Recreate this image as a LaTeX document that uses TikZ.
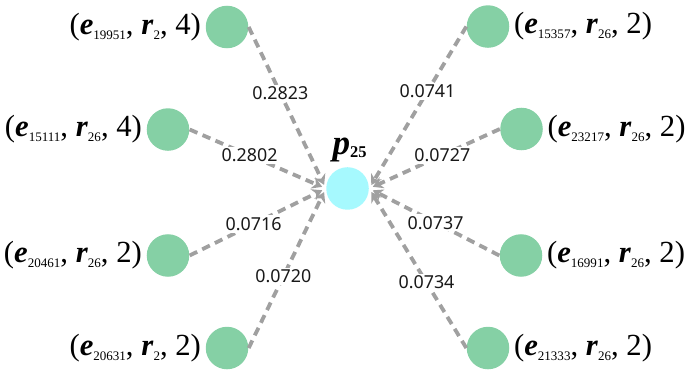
\documentclass[tikz,border=0pt]{standalone}
\usepackage{fontspec}
\setmainfont{Liberation Serif}
\newfontfamily\numfont{Noto Sans}
\usepackage{xcolor}
\usepackage{tikz}
\usetikzlibrary{arrows.meta,positioning}

\definecolor{leafgreen}{HTML}{85D0A5}
\definecolor{hubcyan}{HTML}{A6F9FE}
\definecolor{edgegray}{HTML}{A0A0A0}
\newcommand{\bi}[1]{\textbf{\textit{#1}}}
\newcommand{\idx}[1]{\raisebox{-2.5pt}{\fontsize{6.5}{7}\selectfont #1}}

\begin{document}
\begin{tikzpicture}[
  x=1cm,
  y=1cm,
  flow/.style={-{Stealth[length=5pt,width=6pt,inset=1.6pt]}, line width=1.9pt,
    draw=edgegray, dash pattern=on 4.2pt off 2.8pt, shorten >=2pt},
  leaf/.style={circle, fill=leafgreen, minimum size=7.45mm, inner sep=0pt},
  hub/.style={circle, fill=hubcyan, minimum size=7.45mm, inner sep=0pt},
  tuple/.style={font=\fontsize{15.3}{17}\selectfont, inner sep=0pt},
  wt/.style={font=\numfont\fontsize{8.9}{10}\selectfont, fill=white,
    inner sep=1pt, text=black!90}
]
\useasboundingbox (0,0) rectangle (12,6.482);

\node[hub] (p25) at (6.088,3.180) {};
\node[inner sep=0pt, above=2pt of p25, xshift=1pt, font=\fontsize{17.5}{18}\selectfont]
  (p25lbl) {\bi{p}\raisebox{-1.5pt}{\fontsize{8.2}{9}\selectfont\bfseries 25}};

% left column
\node[leaf] (l1) at (3.977,6.009) {};
\node[leaf] (l2) at (2.943,4.213) {};
\node[leaf] (l3) at (2.943,2.006) {};
\node[leaf] (l4) at (3.977,0.385) {};
\node[tuple, left=2pt of l1] (t1) {(\bi{e}\idx{19951}, \bi{r}\idx{2}, 4)};
\node[tuple, left=2pt of l2] (t2) {(\bi{e}\idx{15111}, \bi{r}\idx{26}, 4)};
\node[tuple, left=2pt of l3] (t3) {(\bi{e}\idx{20461}, \bi{r}\idx{26}, 2)};
\node[tuple, left=2pt of l4] (t4) {(\bi{e}\idx{20631}, \bi{r}\idx{2}, 2)};

% right column
\node[leaf] (r1) at (8.549,6.017) {};
\node[leaf] (r2) at (9.136,4.222) {};
\node[leaf] (r3) at (9.127,2.006) {};
\node[leaf] (r4) at (8.549,0.385) {};
\node[tuple, right=2pt of r1] (t5) {(\bi{e}\idx{15357}, \bi{r}\idx{26}, 2)};
\node[tuple, right=2pt of r2] (t6) {(\bi{e}\idx{23217}, \bi{r}\idx{26}, 2)};
\node[tuple, right=2pt of r3] (t7) {(\bi{e}\idx{16991}, \bi{r}\idx{26}, 2)};
\node[tuple, right=2pt of r4] (t8) {(\bi{e}\idx{21333}, \bi{r}\idx{26}, 2)};

\draw[flow] (l1.east) -- node[wt, pos=0.41] (w1) {0.2823} (p25.west);
\draw[flow] (l2.east) -- node[wt, pos=0.44] (w2) {0.2802} (p25.west);
\draw[flow] (l3.east) -- node[wt, pos=0.47] (w3) {0.0716} (p25.west);
\draw[flow] (l4.east) -- node[wt, pos=0.45] (w4) {0.0720} (p25.west);
\draw[flow] (r1.west) -- node[wt, pos=0.40] (w5) {0.0741} (p25.east);
\draw[flow] (r2.west) -- node[wt, pos=0.44] (w6) {0.0727} (p25.east);
\draw[flow] (r3.west) -- node[wt, pos=0.49] (w7) {0.0737} (p25.east);
\draw[flow] (r4.west) -- node[wt, pos=0.41] (w8) {0.0734} (p25.east);

\end{tikzpicture}
\end{document}
